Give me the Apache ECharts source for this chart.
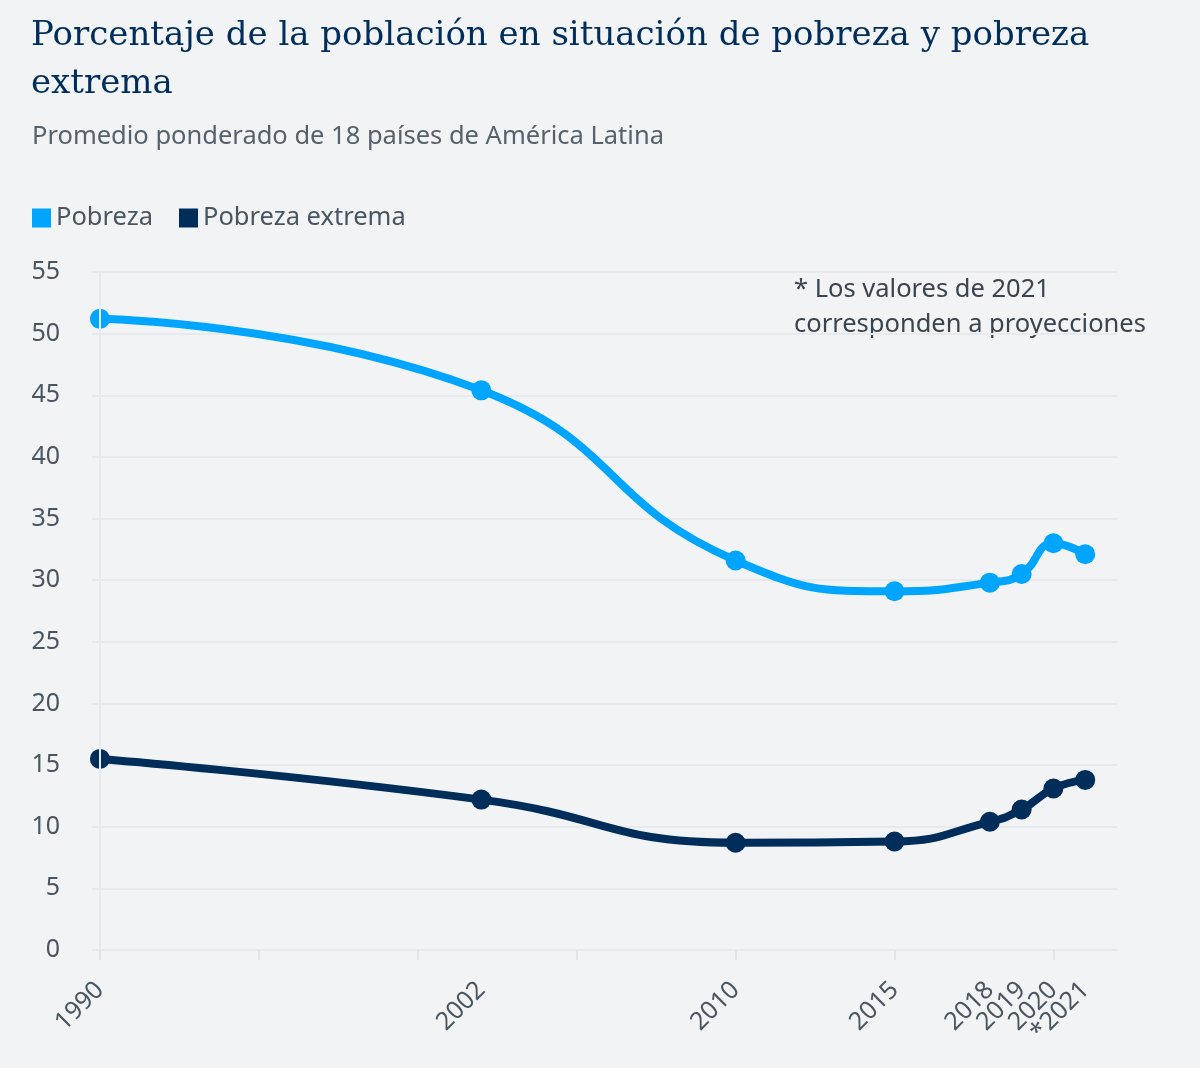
<!DOCTYPE html>
<html>
<head>
<meta charset="utf-8">
<script src="https://cdn.jsdelivr.net/npm/echarts@6/dist/echarts.min.js"></script>
<style>
  html, body { margin: 0; padding: 0; background: #f1f3f5; }
  #main { width: 1200px; height: 1068px; }
</style>
</head>
<body>
<div id="main"></div>
<script>
// datos: CEPAL, promedio ponderado de 18 países
var years = [1990, 2002, 2010, 2015, 2018, 2019, 2020, 2021];
var pobreza = [51.2, 45.4, 31.6, 29.1, 29.8, 30.5, 33.0, 32.1];
var pobrezaExtrema = [15.5, 12.2, 8.7, 8.8, 10.4, 11.4, 13.1, 13.8];
var tickYears = [1990, 1995, 2000, 2005, 2010, 2015, 2020];

var sans = '"Noto Sans", "Open Sans", sans-serif';

function pairs(xs, ys) {
    var out = [];
    for (var i = 0; i < xs.length; i++) {
        out.push([xs[i], ys[i]]);
    }
    return out;
}

// etiqueta vacía al final para que echarts no oculte 2020/2021 por solaparse
var labelYears = years.concat([2022]);

var chart = echarts.init(document.getElementById('main'));

var option = {
    backgroundColor: '#f1f3f5',
    color: ['#00a5ff', '#002d5a'],
    title: [{
        text: 'Porcentaje de la población en situación de pobreza y pobreza\nextrema',
        left: 31,
        top: 12,
        padding: 0,
        textStyle: {
            fontFamily: '"DejaVu Serif", serif',
            fontWeight: 'normal',
            fontSize: 34,
            lineHeight: 48,
            color: '#002d5a'
        }
    }, {
        text: 'Promedio ponderado de 18 países de América Latina',
        left: 32,
        top: 124,
        padding: 0,
        textStyle: {
            fontFamily: sans,
            fontWeight: 'normal',
            fontSize: 25.5,
            color: '#56616c'
        }
    }],
    legend: {
        left: 32,
        top: 205,
        padding: 0,
        icon: 'rect',
        itemWidth: 19,
        itemHeight: 19,
        itemGap: 26,
        textStyle: {
            fontFamily: sans,
            fontSize: 25.5,
            color: '#4a5560'
        },
        data: ['Pobreza', 'Pobreza extrema']
    },
    graphic: [{
        type: 'text',
        left: 794,
        top: 272,
        style: {
            text: '* Los valores de 2021\ncorresponden a proyecciones',
            font: '25.5px "Noto Sans", "Open Sans", sans-serif',
            lineHeight: 35,
            fill: '#3a444e'
        }
    }],
    grid: {
        left: 92,
        right: 83,
        top: 272,
        bottom: 118
    },
    xAxis: {
        type: 'value',
        min: 1989.75,
        max: 2022,
        axisLine: { show: false },
        splitLine: { show: false },
        axisTick: {
            show: true,
            length: 10,
            customValues: tickYears,
            lineStyle: { color: '#e2e4e7', width: 2 }
        },
        axisLabel: {
            customValues: labelYears,
            rotate: 45,
            margin: 36,
            hideOverlap: false,
            showMinLabel: true,
            showMaxLabel: true,
            fontFamily: sans,
            fontSize: 25,
            color: '#4a5560',
            formatter: function (v) {
                if (v === 2022) return '';
                return v === 2021 ? '*2021' : String(v);
            }
        }
    },
    yAxis: {
        type: 'value',
        min: 0,
        max: 55,
        interval: 5,
        axisLine: { show: false },
        axisTick: { show: false },
        axisLabel: {
            margin: 32,
            fontFamily: sans,
            fontSize: 25,
            color: '#4a5560'
        },
        splitLine: {
            lineStyle: { color: '#e7e9ec', width: 2 }
        }
    },
    series: [{
        name: 'Pobreza',
        type: 'line',
        smooth: 0.5,
        symbol: 'circle',
        symbolSize: 20,
        lineStyle: { width: 8 },
        data: pairs(years, pobreza),
        markLine: {
            silent: true,
            symbol: 'none',
            label: { show: false },
            lineStyle: { color: '#e7e9ec', width: 2, type: 'solid' },
            data: [{ xAxis: 1990 }]
        },
        z: 3
    }, {
        name: 'Pobreza extrema',
        type: 'line',
        smooth: 0.5,
        symbol: 'circle',
        symbolSize: 20,
        lineStyle: { width: 8 },
        data: pairs(years, pobrezaExtrema),
        z: 3
    }]
};

chart.setOption(option);
</script>
</body>
</html>
